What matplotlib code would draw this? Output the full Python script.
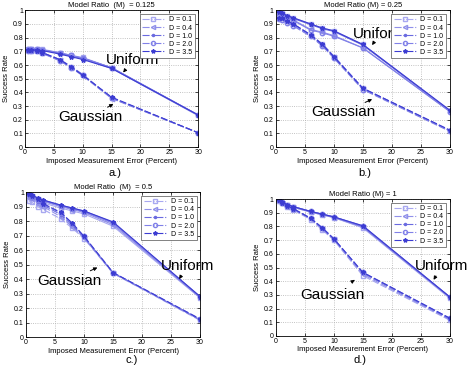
import matplotlib
matplotlib.use("Agg")
import matplotlib.pyplot as plt
from matplotlib.lines import Line2D

# imposed measurement error (percent)
x_err = [0.5, 1, 2, 3, 6, 8, 10, 15, 30]
d_labels = ["D = 0.1", "D = 0.4", "D = 1.0", "D = 2.0", "D = 3.5"]

# success rate, one row per D value
uni_a = [[0.72, 0.72, 0.72, 0.715, 0.69, 0.67, 0.655, 0.58, 0.235],
         [0.715, 0.715, 0.715, 0.71, 0.685, 0.665, 0.645, 0.575, 0.23],
         [0.72, 0.715, 0.715, 0.71, 0.685, 0.665, 0.65, 0.58, 0.235],
         [0.715, 0.72, 0.715, 0.71, 0.69, 0.67, 0.65, 0.58, 0.235],
         [0.71, 0.71, 0.71, 0.705, 0.68, 0.66, 0.64, 0.575, 0.235]]
gau_a = [[0.71, 0.71, 0.705, 0.69, 0.64, 0.585, 0.525, 0.36, 0.105],
         [0.705, 0.705, 0.7, 0.685, 0.635, 0.58, 0.52, 0.355, 0.105],
         [0.71, 0.71, 0.705, 0.69, 0.64, 0.59, 0.53, 0.36, 0.105],
         [0.7, 0.705, 0.7, 0.685, 0.63, 0.58, 0.525, 0.36, 0.105],
         [0.71, 0.71, 0.705, 0.69, 0.64, 0.585, 0.525, 0.365, 0.105]]

uni_b = [[0.99, 0.98, 0.96, 0.945, 0.9, 0.87, 0.85, 0.75, 0.265],
         [0.975, 0.97, 0.95, 0.93, 0.86, 0.84, 0.815, 0.725, 0.26],
         [0.985, 0.975, 0.955, 0.94, 0.895, 0.865, 0.845, 0.745, 0.265],
         [0.975, 0.965, 0.945, 0.925, 0.855, 0.835, 0.81, 0.725, 0.26],
         [0.99, 0.98, 0.96, 0.945, 0.9, 0.87, 0.85, 0.75, 0.27]]
gau_b = [[0.945, 0.94, 0.92, 0.9, 0.82, 0.75, 0.66, 0.43, 0.12],
         [0.94, 0.935, 0.915, 0.89, 0.81, 0.74, 0.655, 0.425, 0.12],
         [0.945, 0.94, 0.92, 0.9, 0.82, 0.755, 0.665, 0.43, 0.12],
         [0.935, 0.93, 0.91, 0.885, 0.81, 0.74, 0.65, 0.42, 0.115],
         [0.945, 0.94, 0.92, 0.9, 0.82, 0.75, 0.66, 0.43, 0.125]]

uni_c = [[0.97, 0.96, 0.945, 0.925, 0.89, 0.87, 0.85, 0.765, 0.27],
         [0.98, 0.97, 0.95, 0.935, 0.9, 0.88, 0.86, 0.775, 0.275],
         [0.99, 0.98, 0.96, 0.945, 0.91, 0.89, 0.87, 0.79, 0.28],
         [0.985, 0.975, 0.955, 0.94, 0.905, 0.885, 0.865, 0.785, 0.275],
         [0.99, 0.98, 0.96, 0.945, 0.91, 0.89, 0.87, 0.795, 0.28]]
gau_c = [[0.94, 0.93, 0.9, 0.88, 0.815, 0.75, 0.68, 0.44, 0.115],
         [0.96, 0.95, 0.92, 0.9, 0.83, 0.76, 0.685, 0.44, 0.12],
         [0.975, 0.96, 0.935, 0.91, 0.845, 0.77, 0.69, 0.445, 0.12],
         [0.985, 0.965, 0.945, 0.915, 0.855, 0.78, 0.695, 0.445, 0.125],
         [0.99, 0.97, 0.95, 0.92, 0.86, 0.785, 0.695, 0.445, 0.125]]

uni_d = [[0.985, 0.975, 0.955, 0.94, 0.905, 0.885, 0.865, 0.79, 0.275],
         [0.985, 0.975, 0.955, 0.94, 0.905, 0.885, 0.865, 0.795, 0.28],
         [0.99, 0.98, 0.96, 0.945, 0.91, 0.89, 0.87, 0.8, 0.285],
         [0.99, 0.98, 0.96, 0.945, 0.91, 0.89, 0.87, 0.805, 0.285],
         [0.99, 0.98, 0.96, 0.945, 0.91, 0.89, 0.87, 0.805, 0.285]]
gau_d = [[0.985, 0.97, 0.945, 0.92, 0.85, 0.775, 0.7, 0.44, 0.115],
         [0.985, 0.97, 0.945, 0.925, 0.855, 0.78, 0.705, 0.45, 0.12],
         [0.99, 0.975, 0.95, 0.93, 0.86, 0.79, 0.71, 0.46, 0.125],
         [0.99, 0.975, 0.95, 0.93, 0.86, 0.79, 0.71, 0.465, 0.13],
         [0.99, 0.975, 0.95, 0.93, 0.86, 0.79, 0.71, 0.465, 0.13]]

titles = ["Model Ratio  (M)  = 0.125", "Model Ratio (M) = 0.25",
          "Model Ratio  (M)  = 0.5", "Model Ratio (M) = 1"]
panel_tags = ["a.)", "b.)", "c.)", "d.)"]

markers = ["s", "<", ".", "o", "*"]
colors = ["#a8a8f0", "#9090ea", "#6a6ae0", "#8080e8", "#3c3cd2"]

plt.rcParams["font.family"] = "Liberation Sans"

fig = plt.figure(figsize=(4.74, 3.66), dpi=100)

# axes boxes [left, bottom, width, height] in figure fraction
boxes = [[0.053, 0.598, 0.365, 0.374],
         [0.582, 0.598, 0.367, 0.374],
         [0.055, 0.079, 0.367, 0.396],
         [0.582, 0.082, 0.367, 0.374]]
tag_pos = [(0.243, 0.527), (0.770, 0.527), (0.278, 0.016), (0.760, 0.016)]

# annotation: (text xy, arrow tip xy) in data coords
uni_notes = [((18.7, 0.635), (17.0, 0.545)),
             ((17.9, 0.83), (16.6, 0.745)),
             ((27.8, 0.49), (26.4, 0.40)),
             ((28.6, 0.51), (27.2, 0.41))]
gau_notes = [((11.3, 0.22), (15.3, 0.315)),
             ((11.7, 0.255), (16.6, 0.35)),
             ((7.4, 0.39), (12.3, 0.48)),
             ((9.8, 0.30), (13.6, 0.41))]

uni_sets = [uni_a, uni_b, uni_c, uni_d]
gau_sets = [gau_a, gau_b, gau_c, gau_d]

for i in range(4):
    ax = fig.add_axes(boxes[i])
    for k in range(5):
        mfc = colors[k] if markers[k] in (".", "*") else "none"
        ax.plot(x_err, uni_sets[i][k], "-", color=colors[k], marker=markers[k],
                ms=3.2, mfc=mfc, lw=0.8)
        ax.plot(x_err, gau_sets[i][k], "--", color=colors[k], marker=markers[k],
                ms=3.2, mfc=mfc, lw=0.8, dashes=(6, 2))

    ax.set_xlim(0, 30)
    ax.set_ylim(0, 1)
    ax.set_xticks([0, 5, 10, 15, 20, 25, 30])
    ax.set_yticks([0, 0.1, 0.2, 0.3, 0.4, 0.5, 0.6, 0.7, 0.8, 0.9, 1])
    ax.set_yticklabels(["0", "0.1", "0.2", "0.3", "0.4", "0.5", "0.6", "0.7",
                        "0.8", "0.9", "1"])
    ax.tick_params(labelsize=5, length=2, width=0.5, pad=1.5, direction="in",
                   top=True, right=True)
    ax.grid(True, linestyle=":", color="#b0b0b0", lw=0.6)
    for s in ax.spines.values():
        s.set_linewidth(0.6)
    ax.set_title(titles[i], fontsize=5.5, pad=2)
    ax.set_xlabel("Imposed Measurement Error (Percent)", fontsize=5.5, labelpad=1)
    ax.set_ylabel("Success Rate", fontsize=5.5, labelpad=2)

    handles = [Line2D([], [], color=colors[k], marker=markers[k], ms=3,
                      mfc=colors[k] if markers[k] in (".", "*") else "none",
                      lw=0.8, linestyle="-.") for k in range(5)]
    leg = ax.legend(handles, d_labels, loc="upper right", fontsize=5,
                    handlelength=3.2, borderpad=0.4, labelspacing=0.15,
                    handletextpad=0.6, fancybox=False, framealpha=1)
    leg.get_frame().set_edgecolor("#505050")
    leg.get_frame().set_linewidth(0.5)

    ax.annotate("Uniform", xy=uni_notes[i][1], xytext=uni_notes[i][0],
                fontsize=11, ha="center", va="center",
                arrowprops=dict(arrowstyle="-|>", color="black", lw=0.7,
                                mutation_scale=5, shrinkA=6, shrinkB=0))
    ax.annotate("Gaussian", xy=gau_notes[i][1], xytext=gau_notes[i][0],
                fontsize=11, ha="center", va="center",
                arrowprops=dict(arrowstyle="-|>", color="black", lw=0.7,
                                mutation_scale=5, shrinkA=6, shrinkB=0))

    fig.text(tag_pos[i][0], tag_pos[i][1], panel_tags[i], fontsize=8,
             ha="center", va="center")

fig.savefig("out.png", dpi=100)
